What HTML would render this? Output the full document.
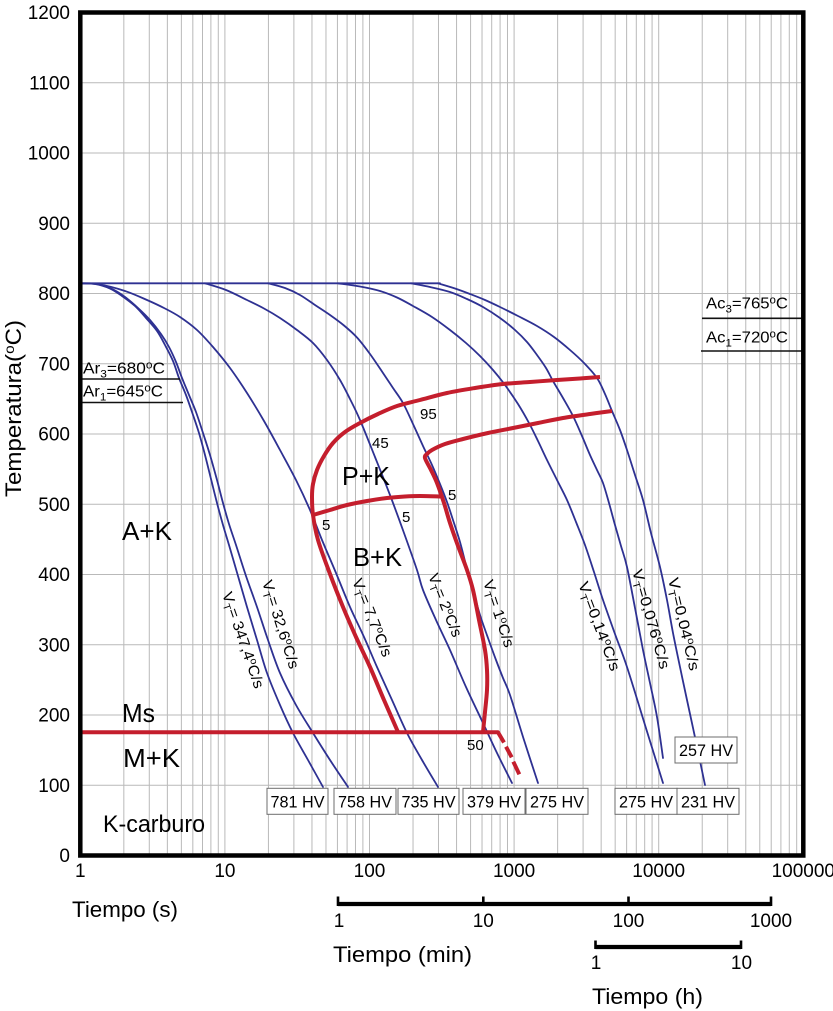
<!DOCTYPE html>
<html><head><meta charset="utf-8"><style>
html,body{margin:0;padding:0;background:#fff}
svg{display:block}
text{font-family:"Liberation Sans",sans-serif;fill:#000}
</style></head><body>
<svg id="chart" width="833" height="1011" viewBox="0 0 833 1011" xmlns="http://www.w3.org/2000/svg">
<rect width="833" height="1011" fill="#fff"/>
<!-- grid -->
<g stroke="#b9b9b9" stroke-width="1" fill="none">
<path d="M123.83 12.5V855.5M149.29 12.5V855.5M167.36 12.5V855.5M181.37 12.5V855.5M192.82 12.5V855.5M202.5 12.5V855.5M210.89 12.5V855.5M218.28 12.5V855.5M224.9 12.5V855.5
M268.43 12.5V855.5M293.89 12.5V855.5M311.96 12.5V855.5M325.97 12.5V855.5M337.42 12.5V855.5M347.1 12.5V855.5M355.49 12.5V855.5M362.88 12.5V855.5M369.5 12.5V855.5
M413.03 12.5V855.5M438.49 12.5V855.5M456.56 12.5V855.5M470.57 12.5V855.5M482.02 12.5V855.5M491.7 12.5V855.5M500.09 12.5V855.5M507.48 12.5V855.5M514.1 12.5V855.5
M557.63 12.5V855.5M583.09 12.5V855.5M601.16 12.5V855.5M615.17 12.5V855.5M626.62 12.5V855.5M636.3 12.5V855.5M644.69 12.5V855.5M652.08 12.5V855.5M658.7 12.5V855.5
M702.23 12.5V855.5M727.69 12.5V855.5M745.76 12.5V855.5M759.77 12.5V855.5M771.22 12.5V855.5M780.9 12.5V855.5M789.29 12.5V855.5M796.68 12.5V855.5"/>
<path d="M80 785.25H803M80 715H803M80 644.75H803M80 574.5H803M80 504.25H803M80 434H803M80 363.75H803M80 293.5H803M80 223.25H803M80 153H803M80 82.75H803"/>
</g>
<!-- blue cooling curves -->
<g stroke="#2e3192" stroke-width="1.8" fill="none" stroke-linejoin="round" stroke-linecap="round">
<path d="M80.3 283.3H440"/>
<polyline class="s" points="80,283.3 95,284 110,288.5 122,296 135,306 146,318 157,331 165,345 173,361 179,378 186,395 192,412 199,433 205,455 211,479 217,503 223,525 229,545 238,576 247,607 257,640 267,673 280,705 293,733 308,760 323,787"/>
<polyline class="s" points="80,283.3 97,284 112,289 125,297 138,308 150,320 161,334 169,347 176,362 182,378 189,395 196,412 203,433 210,455 217,480 223,503 229,524 236,545 246,576 257,607 268,640 280,673 296,705 313,733 330,760 348,787"/>
<polyline class="s" points="80,283.3 100,284.5 125,291 147,300 165,308.5 180,317 197,330 213,347 230,368 247,393 264,421 280,450 296,480 310,510 322,540 336,573 350,607 364,637 377,667 392,700 407,733 422,760 438,787"/>
<polyline class="s" points="205,283.3 226,290 247,300 264,308.5 280,318 297,330 313,343 327,360 340,380 350,399 360,420 375,457 390,495 404,533 417,570 423,590 436,620 450,650 466,687 483,723 497,753 512,783"/>
<polyline class="s" points="268,283.3 285,288 300,295 315,305 330,315 344,325.5 357,337.5 370,354 383,373 393,388 403,403 413,424 423,446 432,465 440,484 447,502 453,520 460,542 466,565 473,590 480,615 488,638 496,660 503,678 510,695 524,740 538,783"/>
<polyline class="s" points="338,283.3 360,286.5 380,291 397,297.5 413,306 432,317 450,330 466,343 480,356 493,370 505,385 518,404 529,423 538,441 547,460 557,480 567,500 576,522 585,545 594,572 603,600 615,634 627,667 645,725 663,783"/>
<polyline class="s" points="411,283.3 430,287 450,292 467,299 483,307 500,318 515,330 527,342 537,355 546,368 553,381 563,398 573,416 582,436 590,455 597,470 603,483 609,503 615,525 621,546 627,567 635,608 643,650 650,683 657,717 663,758"/>
<polyline class="s" points="438,283.3 455,288.5 470,294 485,300 500,307 518,316 537,326 554,337 570,350 584,363 597,378 605,394 612,411 620,430 627,450 635,475 643,500 651,533 660,567 667,600 673,633 680,667 687,700 696,742 705,785"/>
</g>
<!-- red transformation curves -->
<g stroke="#c41e2d" stroke-width="4" fill="none" stroke-linejoin="round">
<polyline class="s" points="600,377 580,378.5 557,380 530,382 503,384 475,388 447,393 420,400 397,406 378,414 360,423 345,432 333,443 324,456 317,470 313,484 312,497 313,515 318,540 330,574 343,607 356,637 370,667 384,700 398,732"/>
<polyline class="s" points="313,515 330,510 347,505 367,501 387,498 405,496.5 420,496 441,496.5"/>
<polyline class="s" points="612,411 590,414 563,418 538,423 513,428 488,433 463,439 445,444 432,450 427,454 425,458 431,470 437,483 444,503 450,523 458,546 467,570 473,590 479,620 485,650 487,670 487,690 485,712 483,732"/>
<path d="M80.3 732.3H498L504 742.5"/>
<path d="M506 746.7L511.7 757.3M513.3 761.7L519.3 774.3"/>
</g>
<!-- small numeric labels -->
<g font-size="15">
<text x="420" y="419">95</text>
<text x="372" y="448">45</text>
<text x="322" y="530">5</text>
<text x="402" y="522">5</text>
<text x="448" y="500">5</text>
<text x="467" y="750">50</text>
</g>
<!-- region labels -->
<g font-size="26">
<text x="122" y="540" textLength="50" lengthAdjust="spacingAndGlyphs">A+K</text>
<text x="342" y="485" textLength="48" lengthAdjust="spacingAndGlyphs">P+K</text>
<text x="353" y="566" textLength="49" lengthAdjust="spacingAndGlyphs">B+K</text>
<text x="122" y="722" textLength="33" lengthAdjust="spacingAndGlyphs">Ms</text>
<text x="123" y="767" textLength="57" lengthAdjust="spacingAndGlyphs">M+K</text>
</g>
<text x="103" y="832" font-size="24" textLength="102" lengthAdjust="spacingAndGlyphs">K-carburo</text>
<!-- rotated velocity labels -->
<g font-size="15">
<text transform="translate(222,594) rotate(71)" textLength="101" lengthAdjust="spacingAndGlyphs">V<tspan font-size="10" dy="3">T</tspan><tspan dy="-3">= 347,4</tspan><tspan font-size="10" dy="-5">o</tspan><tspan dy="5">C/s</tspan></text>
<text transform="translate(262,582) rotate(72.4)" textLength="92" lengthAdjust="spacingAndGlyphs">V<tspan font-size="10" dy="3">T</tspan><tspan dy="-3">= 32,6</tspan><tspan font-size="10" dy="-5">o</tspan><tspan dy="5">C/s</tspan></text>
<text transform="translate(352,581) rotate(68)" textLength="83" lengthAdjust="spacingAndGlyphs">V<tspan font-size="10" dy="3">T</tspan><tspan dy="-3">= 7,7</tspan><tspan font-size="10" dy="-5">o</tspan><tspan dy="5">C/s</tspan></text>
<text transform="translate(428,576) rotate(68)" textLength="67" lengthAdjust="spacingAndGlyphs">V<tspan font-size="10" dy="3">T</tspan><tspan dy="-3">= 2</tspan><tspan font-size="10" dy="-5">o</tspan><tspan dy="5">C/s</tspan></text>
<text transform="translate(483,582) rotate(71.6)" textLength="70" lengthAdjust="spacingAndGlyphs">V<tspan font-size="10" dy="3">T</tspan><tspan dy="-3">= 1</tspan><tspan font-size="10" dy="-5">o</tspan><tspan dy="5">C/s</tspan></text>
<text transform="translate(578,584) rotate(69.4)" textLength="94" lengthAdjust="spacingAndGlyphs">V<tspan font-size="10" dy="3">T</tspan><tspan dy="-3">=0,14</tspan><tspan font-size="10" dy="-5">o</tspan><tspan dy="5">C/s</tspan></text>
<text transform="translate(632,571) rotate(74)" textLength="103" lengthAdjust="spacingAndGlyphs">V<tspan font-size="10" dy="3">T</tspan><tspan dy="-3">=0,076</tspan><tspan font-size="10" dy="-5">o</tspan><tspan dy="5">C/s</tspan></text>
<text transform="translate(668,579) rotate(76.7)" textLength="95" lengthAdjust="spacingAndGlyphs">V<tspan font-size="10" dy="3">T</tspan><tspan dy="-3">=0,04</tspan><tspan font-size="10" dy="-5">o</tspan><tspan dy="5">C/s</tspan></text>
</g>
<!-- HV boxes -->
<g stroke="#6d6d6d" stroke-width="1" fill="#fff">
<rect x="267" y="788.3" width="61" height="26"/>
<rect x="334" y="788.3" width="62" height="26"/>
<rect x="398" y="788.3" width="61" height="26"/>
<rect x="463" y="788.3" width="62" height="26"/>
<rect x="526" y="788.3" width="62" height="26"/>
<rect x="615" y="788.3" width="62" height="26"/>
<rect x="677" y="788.3" width="62" height="26"/>
<rect x="675" y="737" width="62" height="26"/>
</g>
<g font-size="17" text-anchor="middle">
<text x="297.5" y="807.5" textLength="54" lengthAdjust="spacingAndGlyphs">781 HV</text>
<text x="365" y="807.5" textLength="54" lengthAdjust="spacingAndGlyphs">758 HV</text>
<text x="428.5" y="807.5" textLength="54" lengthAdjust="spacingAndGlyphs">735 HV</text>
<text x="494" y="807.5" textLength="54" lengthAdjust="spacingAndGlyphs">379 HV</text>
<text x="557" y="807.5" textLength="54" lengthAdjust="spacingAndGlyphs">275 HV</text>
<text x="646" y="807.5" textLength="54" lengthAdjust="spacingAndGlyphs">275 HV</text>
<text x="708" y="807.5" textLength="54" lengthAdjust="spacingAndGlyphs">231 HV</text>
<text x="706" y="756.2" textLength="54" lengthAdjust="spacingAndGlyphs">257 HV</text>
</g>
<!-- Ar / Ac -->
<g stroke="#111" stroke-width="1.6">
<path d="M80 379H180M80 402.5H183M702 318.3H803M701 351H803"/>
</g>
<g font-size="16">
<text x="83" y="373.5" textLength="82" lengthAdjust="spacingAndGlyphs">Ar<tspan font-size="11" dy="4">3</tspan><tspan dy="-4">=680</tspan><tspan font-size="11" dy="-5">o</tspan><tspan dy="5">C</tspan></text>
<text x="83" y="396.7" textLength="80" lengthAdjust="spacingAndGlyphs">Ar<tspan font-size="11" dy="4">1</tspan><tspan dy="-4">=645</tspan><tspan font-size="11" dy="-5">o</tspan><tspan dy="5">C</tspan></text>
<text x="706" y="308.3" textLength="82" lengthAdjust="spacingAndGlyphs">Ac<tspan font-size="11" dy="4">3</tspan><tspan dy="-4">=765</tspan><tspan font-size="11" dy="-5">o</tspan><tspan dy="5">C</tspan></text>
<text x="706" y="342.7" textLength="82" lengthAdjust="spacingAndGlyphs">Ac<tspan font-size="11" dy="4">1</tspan><tspan dy="-4">=720</tspan><tspan font-size="11" dy="-5">o</tspan><tspan dy="5">C</tspan></text>
</g>
<!-- frame -->
<rect x="80.3" y="12.5" width="723" height="843" fill="none" stroke="#000" stroke-width="4.5"/>
<!-- y tick labels -->
<g font-size="19" text-anchor="end">
<text x="70" y="862">0</text>
<text x="70" y="791.75">100</text>
<text x="70" y="721.5">200</text>
<text x="70" y="651.25">300</text>
<text x="70" y="581">400</text>
<text x="70" y="510.75">500</text>
<text x="70" y="440.5">600</text>
<text x="70" y="370.25">700</text>
<text x="70" y="300">800</text>
<text x="70" y="229.75">900</text>
<text x="70" y="159.5">1000</text>
<text x="70" y="89.25">1100</text>
<text x="70" y="19">1200</text>
</g>
<text transform="translate(21,408.5) rotate(-90)" font-size="22" text-anchor="middle" textLength="177" lengthAdjust="spacingAndGlyphs">Temperatura(<tspan font-size="14" dy="-7">o</tspan><tspan dy="7">C)</tspan></text>
<!-- x tick labels -->
<g font-size="19" text-anchor="middle">
<text x="80.3" y="877">1</text>
<text x="224.9" y="877">10</text>
<text x="369.5" y="877">100</text>
<text x="514.1" y="877">1000</text>
<text x="658.7" y="877">10000</text>
<text x="803.3" y="877">100000</text>
</g>
<text x="72" y="917" font-size="22" textLength="106" lengthAdjust="spacingAndGlyphs">Tiempo (s)</text>
<!-- secondary axes -->
<g stroke="#000" fill="none">
<path d="M338 904H771" stroke-width="4.3"/>
<path d="M338 896.5V906M483.3 896.5V904M628.5 896.5V904M771 896.5V906" stroke-width="2.6"/>
<path d="M595.5 947H741" stroke-width="4.2"/>
<path d="M595.5 940.5V949M741 940.5V949" stroke-width="2.6"/>
</g>
<g font-size="19" text-anchor="middle">
<text x="339" y="927">1</text>
<text x="483.3" y="927">10</text>
<text x="628.5" y="927">100</text>
<text x="771" y="927">1000</text>
<text x="596" y="969">1</text>
<text x="741.5" y="969">10</text>
</g>
<text x="333" y="962" font-size="22" textLength="139" lengthAdjust="spacingAndGlyphs">Tiempo (min)</text>
<text x="592" y="1004" font-size="22" textLength="111" lengthAdjust="spacingAndGlyphs">Tiempo (h)</text>
</svg>
<script>
(function(){
  var ns="http://www.w3.org/2000/svg";
  var pls=document.querySelectorAll("polyline.s");
  for(var i=0;i<pls.length;i++){
    var pl=pls[i];
    var raw=pl.getAttribute("points").trim().split(/\s+/);
    var p=raw.map(function(s){var a=s.split(",");return [parseFloat(a[0]),parseFloat(a[1])];});
    var d="M"+p[0][0]+" "+p[0][1];
    for(var j=0;j<p.length-1;j++){
      var p0=p[j>0?j-1:j],p1=p[j],p2=p[j+1],p3=p[j+2<p.length?j+2:j+1];
      var c1x=p1[0]+(p2[0]-p0[0])/6,c1y=p1[1]+(p2[1]-p0[1])/6;
      var c2x=p2[0]-(p3[0]-p1[0])/6,c2y=p2[1]-(p3[1]-p1[1])/6;
      d+=" C"+c1x.toFixed(2)+" "+c1y.toFixed(2)+" "+c2x.toFixed(2)+" "+c2y.toFixed(2)+" "+p2[0]+" "+p2[1];
    }
    var path=document.createElementNS(ns,"path");
    path.setAttribute("d",d);
    pl.parentNode.replaceChild(path,pl);
  }
})();
</script>
</body></html>
